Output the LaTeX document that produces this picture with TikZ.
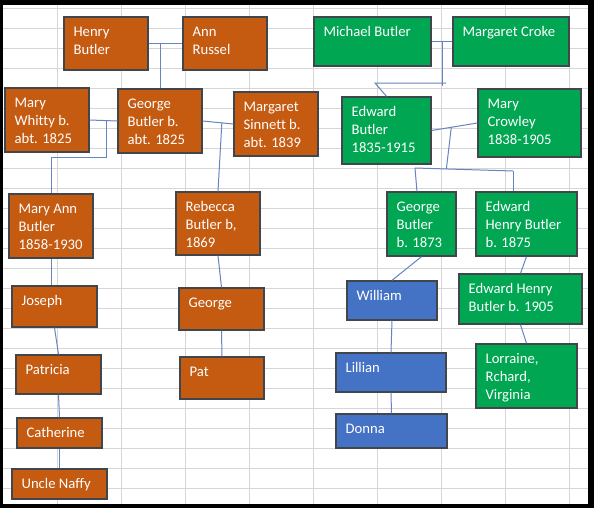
\documentclass[tikz,border=0pt]{standalone}
\usepackage{fontspec}
\setmainfont{Carlito}[Ligatures={NoCommon}]
\usetikzlibrary{calc,fit}
\definecolor{famorange}{HTML}{C55A11}
\definecolor{famgreen}{HTML}{00A651}
\definecolor{famblue}{HTML}{4472C4}
\definecolor{boxline}{HTML}{41464C}
\definecolor{linkblue}{HTML}{6684C0}
\definecolor{cellgrid}{HTML}{D6D6D6}

\begin{document}
\begin{tikzpicture}[x=0.75pt, y=-0.75pt,
  person/.style={draw=boxline, line width=1pt, inner sep=0pt},
  orangebox/.style={person, fill=famorange},
  greenbox/.style={person, fill=famgreen},
  bluebox/.style={person, fill=famblue},
  txt/.style={anchor=north west, inner sep=7.5pt, align=left, text=white,
    font=\fontsize{11}{13.5}\selectfont},
  link/.style={draw=linkblue, line width=0.75pt},
  grid/.style={draw=cellgrid, line width=0.75pt}]
\useasboundingbox (0,0) rectangle (594,508);
% sheet and cells
\fill[black] (0,0) rectangle (594,508);
\fill[white] (3,5) rectangle (588,504);
\foreach \y in {8,28,...,488} \draw[grid] (3,\y) -- (588,\y);
\foreach \x in {57,121,...,569} \draw[grid] (\x,5) -- (\x,504);
% Butler side
\node[orangebox, fit={(64,17) (148,70)}, label={[txt]north west:{Henry\\Butler}}] (hb) {};
\node[orangebox, fit={(183,17) (267,70)}, label={[txt]north west:{Ann\\Russel}}] (ar) {};
\node[orangebox, fit={(5,88) (89,152)}, label={[txt]north west:{Mary\\Whitty b.\\abt. 1825}}] (mw) {};
\node[orangebox, fit={(118,89) (202,153)}, label={[txt]north west:{George\\Butler b.\\abt. 1825}}] (gb) {};
\node[orangebox, fit={(234,92) (318,156)}, label={[txt]north west:{Margaret\\Sinnett b.\\abt. 1839}}] (ms) {};
\node[orangebox, fit={(9,194) (93,258)}, label={[txt]north west:{Mary Ann\\Butler\\1858-1930}}] (mab) {};
\node[orangebox, fit={(176,192) (260,255)}, label={[txt]north west:{Rebecca\\Butler b,\\1869}}] (rb) {};
\node[orangebox, fit={(12,286) (97,327)}, label={[txt]north west:{Joseph}}] (jo) {};
\node[orangebox, fit={(179,288) (264,330)}, label={[txt]north west:{George}}] (ge) {};
\node[orangebox, fit={(16,355) (101,394)}, label={[txt]north west:{Patricia}}] (pa) {};
\node[orangebox, fit={(180,357) (264,399)}, label={[txt]north west:{Pat}}] (pt) {};
\node[orangebox, fit={(17,418) (102,448)}, label={[txt]north west:{Catherine}}] (ca) {};
\node[orangebox, fit={(12,469) (107,499)}, label={[txt]north west:{Uncle Naffy}}] (un) {};
% Butler / Crowley side
\node[greenbox, fit={(314,17) (431,66)}, label={[txt]north west:{Michael Butler}}] (mb) {};
\node[greenbox, fit={(453,17) (569,66)}, label={[txt]north west:{Margaret Croke}}] (mc) {};
\node[greenbox, fit={(342,97) (431,164)}, label={[txt]north west:{Edward\\Butler\\1835-1915}}] (eb) {};
\node[greenbox, fit={(478,89) (581,157)}, label={[txt]north west:{Mary\\Crowley\\1838-1905}}] (mcw) {};
\node[greenbox, fit={(387,192) (456,256)}, label={[txt]north west:{George\\Butler\\b. 1873}}] (gbt) {};
\node[greenbox, fit={(476,192) (577,256)}, label={[txt]north west:{Edward\\Henry Butler\\b. 1875}}] (ehb) {};
\node[greenbox, fit={(459,274) (582,324)}, label={[txt]north west:{Edward Henry\\Butler b. 1905}}] (eh5) {};
\node[greenbox, fit={(476,344) (577,408)}, label={[txt]north west:{Lorraine,\\Rchard,\\Virginia}}] (lo) {};
\node[bluebox, fit={(347,281) (437,320)}, label={[txt]north west:{William}}] (wi) {};
\node[bluebox, fit={(336,353) (446,392)}, label={[txt]north west:{Lillian}}] (li) {};
\node[bluebox, fit={(336,414) (447,448)}, label={[txt]north west:{Donna}}] (do) {};
% couples and children, left
\draw[link] (hb.east) -- (ar.west);
\draw[link] (gb.north) -- (gb.north |- hb.east);
\coordinate (mwj) at ($(mw.east)!0.6!(gb.west)$);
\draw[link] (mw.east) -- (gb.west);
\draw[link] (mwj) -- ++(0,37) -| (mab.north);
\coordinate (gmj) at ($(gb.east)!0.625!(ms.west)$);
\draw[link] (gb.east) -- (ms.west);
\draw[link] (gmj) -- (rb.north);
\draw[link] (mab.south) -- (mab.south |- jo.north);
\draw[link] (jo.south) -- (pa.north);
\draw[link] (pa.south) -- (ca.north);
\draw[link] (ca.south) -- (un.north);
\draw[link] (rb.south) -- (ge.north);
\draw[link] (ge.south) -- (pt.north);
% couples and children, right
\coordinate (mbj) at ($(mb.east)!0.5!(mc.west)$);
\coordinate (ebl) at (375,83);
\coordinate (ebr) at (446,83);
\draw[link] (mb.east) -- (mc.west);
\draw[link] (mbj) -- ++(0,44);
\draw[link] (ebr) -- (ebl) -- (eb.north);
\coordinate (ecj) at ($(eb.east)!0.43!(mcw.west)$);
\coordinate (sibl) at (415,168);
\coordinate (sibr) at (513,171);
\draw[link] (eb.east) -- (mcw.west);
\draw[link] (ecj) -- ($(sibl)!0.32!(sibr)$);
\draw[link] (sibl) -- (sibr);
\draw[link] (sibl) -- ([xshift=-3.4pt]gbt.north);
\draw[link] (sibr) -- (sibr |- ehb.north);
\draw[link] (gbt.south) -- (wi.north);
\draw[link] (wi.south) -- (li.north);
\draw[link] (li.south) -- (do.north);
\draw[link] (ehb.south) -- (eh5.north);
\draw[link] (eh5.south) -- (lo.north);
\end{tikzpicture}
\end{document}
